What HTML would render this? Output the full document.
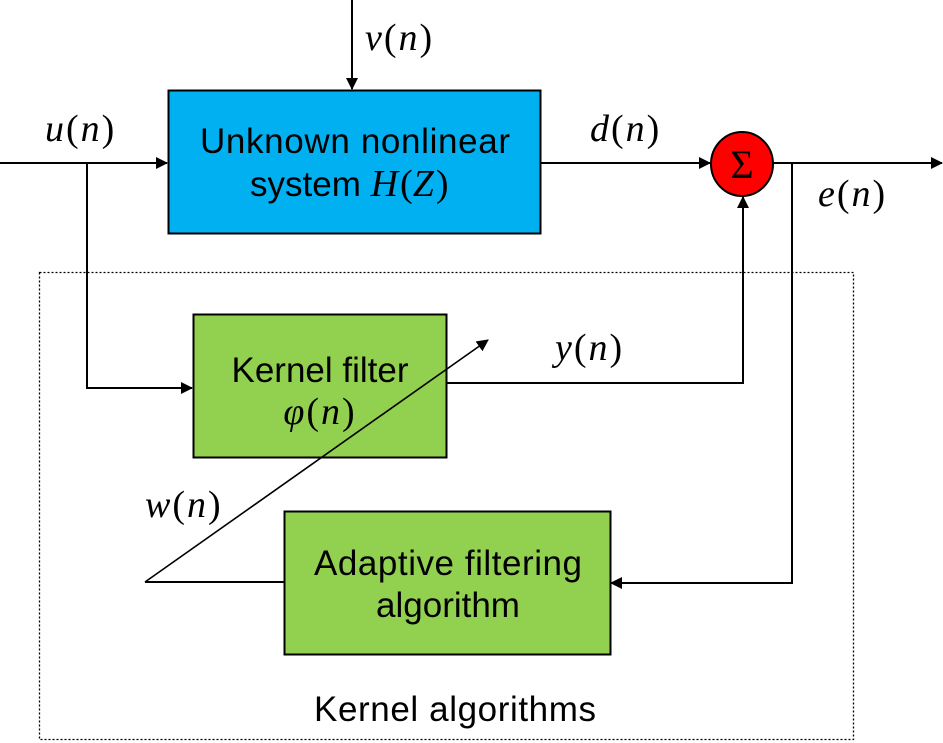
<!DOCTYPE html>
<html><head><style>
html,body{margin:0;padding:0;background:#fff;}
svg{display:block;}
.t{font-family:"Liberation Sans",sans-serif;font-size:35px;fill:#000;}
.m{font-family:"Liberation Serif",serif;font-style:italic;font-size:38px;fill:#000;letter-spacing:2px;}
.p{font-family:"Liberation Serif",serif;font-style:normal;font-size:38px;fill:#000;}
</style></head><body>
<svg width="943" height="743" viewBox="0 0 943 743">
<defs>
<marker id="a" markerWidth="12" markerHeight="12" refX="11" refY="6" orient="auto" markerUnits="userSpaceOnUse">
<path d="M0,0 L12,6 L0,12 Z" fill="#000"/></marker>
</defs>
<rect x="39.5" y="272.5" width="814" height="467" fill="none" stroke="#000" stroke-width="1.3" stroke-dasharray="2,2"/>
<g stroke="#000" stroke-width="2" fill="none">
<line x1="0" y1="163" x2="167" y2="163" marker-end="url(#a)"/>
<polyline points="87,163 87,388 192,388" marker-end="url(#a)"/>
<line x1="352" y1="0" x2="352" y2="89" marker-end="url(#a)"/>
<line x1="541" y1="163" x2="710" y2="163" marker-end="url(#a)"/>
<line x1="773" y1="163" x2="942" y2="163" marker-end="url(#a)"/>
<polyline points="792,163 792,583 611,583" marker-end="url(#a)"/>
<polyline points="447,383 743,383 743,197" marker-end="url(#a)"/>
<line x1="145" y1="582" x2="284" y2="582"/>
</g>
<rect x="168.5" y="90.5" width="372" height="143" fill="#00b0f0" stroke="#000" stroke-width="2"/>
<rect x="193.5" y="314.5" width="253" height="143" fill="#92d050" stroke="#000" stroke-width="2"/>
<rect x="284.5" y="511.5" width="326" height="143" fill="#92d050" stroke="#000" stroke-width="2"/>
<line x1="145" y1="582" x2="488" y2="340" stroke="#000" stroke-width="1.6" marker-end="url(#a)"/>
<ellipse cx="742" cy="164" rx="31" ry="32" fill="#ff0000" stroke="#000" stroke-width="2"/>
<text x="742" y="178" class="p" text-anchor="middle" style="font-size:40px">Σ</text>
<text x="355" y="153" class="t" text-anchor="middle" textLength="310">Unknown nonlinear</text>
<text x="250" y="196" class="t">system <tspan class="m">H</tspan><tspan class="p">(</tspan><tspan class="m">Z</tspan><tspan class="p">)</tspan></text>
<text x="320" y="382" class="t" text-anchor="middle">Kernel filter</text>
<text x="320" y="424" class="m" text-anchor="middle">φ<tspan class="p">(</tspan>n<tspan class="p">)</tspan></text>
<text x="448" y="575" class="t" text-anchor="middle" textLength="268">Adaptive filtering</text>
<text x="448" y="617" class="t" text-anchor="middle">algorithm</text>
<text x="455" y="721" class="t" text-anchor="middle" textLength="282">Kernel algorithms</text>
<text x="365" y="50" class="m">v<tspan class="p">(</tspan>n<tspan class="p">)</tspan></text>
<text x="45" y="141" class="m">u<tspan class="p">(</tspan>n<tspan class="p">)</tspan></text>
<text x="590" y="141" class="m">d<tspan class="p">(</tspan>n<tspan class="p">)</tspan></text>
<text x="818" y="206" class="m">e<tspan class="p">(</tspan>n<tspan class="p">)</tspan></text>
<text x="555" y="360" class="m">y<tspan class="p">(</tspan>n<tspan class="p">)</tspan></text>
<text x="145" y="517" class="m">w<tspan class="p">(</tspan>n<tspan class="p">)</tspan></text>
</svg>
</body></html>
